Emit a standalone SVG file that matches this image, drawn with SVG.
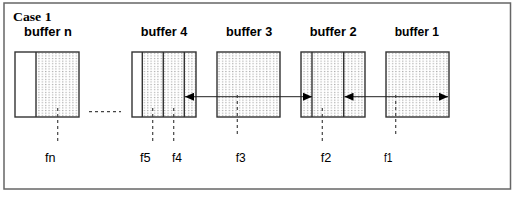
<svg xmlns="http://www.w3.org/2000/svg" width="519" height="200" viewBox="0 0 519 200">
<defs>
<pattern id="dots" x="0" y="0" width="3.4" height="2.6" patternUnits="userSpaceOnUse">
<rect x="1" y="0.8" width="1.1" height="1.1" fill="#a0a0a0"/>
</pattern>
<marker id="ah" markerWidth="10" markerHeight="8" refX="9" refY="4" orient="auto-start-reverse" markerUnits="userSpaceOnUse">
<path d="M0,0 L9,4 L0,8 Z" fill="#000"/>
</marker>
<style>
.box{fill:none;stroke:#333;stroke-width:1.4}
.fill{fill:url(#dots);stroke:none}
.div{stroke:#333;stroke-width:1.4}
.dash{stroke:#444;stroke-width:1.2;stroke-dasharray:3 3;fill:none}
.arr{stroke:#222;stroke-width:1;fill:none}
.lbl{font-family:"Liberation Sans",Arial,sans-serif;font-weight:bold;font-size:12px;fill:#000}
.f{font-family:"Liberation Sans",Arial,sans-serif;font-size:12px;fill:#000}
.case{font-family:"Liberation Serif","Times New Roman",serif;font-weight:bold;font-size:12.5px;fill:#000}
</style>
</defs>
<rect x="0" y="0" width="519" height="200" fill="#fff"/>
<rect x="4" y="3" width="506.5" height="186" fill="none" stroke="#666" stroke-width="1.5"/>
<text class="case" x="13" y="20.5" textLength="38.5" lengthAdjust="spacingAndGlyphs">Case 1</text>

<g id="buffer-n">
<rect class="fill" x="36" y="52" width="43" height="65"/>
<rect class="box" x="15" y="52" width="64" height="65"/>
<line class="div" x1="36" y1="52" x2="36" y2="117"/>
<text class="lbl" x="24" y="35.5" textLength="48" lengthAdjust="spacingAndGlyphs">buffer n</text>
</g>
<g id="buffer-4">
<rect class="fill" x="142" y="52" width="54" height="65"/>
<rect class="box" x="132" y="52" width="64" height="65"/>
<line class="div" x1="142.3" y1="52" x2="142.3" y2="117"/>
<line class="div" x1="163.3" y1="52" x2="163.3" y2="117"/>
<line class="div" x1="184.3" y1="52" x2="184.3" y2="117"/>
<text class="lbl" x="140.7" y="35.5" textLength="46.6" lengthAdjust="spacingAndGlyphs">buffer 4</text>
</g>
<g id="buffer-3">
<rect class="fill" x="217" y="52" width="63" height="65"/>
<rect class="box" x="217" y="52" width="63" height="65"/>
<text class="lbl" x="226" y="35.5" textLength="46.3" lengthAdjust="spacingAndGlyphs">buffer 3</text>
</g>
<g id="buffer-2">
<rect class="fill" x="301" y="52" width="64" height="65"/>
<rect class="box" x="301" y="52" width="64" height="65"/>
<line class="div" x1="312" y1="52" x2="312" y2="117"/>
<line class="div" x1="343.7" y1="52" x2="343.7" y2="117"/>
<text class="lbl" x="309.7" y="35.5" textLength="47" lengthAdjust="spacingAndGlyphs">buffer 2</text>
</g>
<g id="buffer-1">
<rect class="fill" x="386" y="52" width="63" height="65"/>
<rect class="box" x="386" y="52" width="63" height="65"/>
<text class="lbl" x="394.7" y="35.5" textLength="44.3" lengthAdjust="spacingAndGlyphs">buffer 1</text>
</g>

<g id="connectors">
<line class="arr" x1="185" y1="96.7" x2="312" y2="96.7" marker-start="url(#ah)" marker-end="url(#ah)"/>
<line class="arr" x1="344.5" y1="96.7" x2="448" y2="96.7" marker-start="url(#ah)" marker-end="url(#ah)"/>
<line class="dash" x1="89" y1="111.7" x2="121" y2="111.7"/>
<line class="dash" x1="57.7" y1="108" x2="57.7" y2="142"/>
<line class="dash" x1="152.7" y1="108" x2="152.7" y2="142"/>
<line class="dash" x1="173.7" y1="108" x2="173.7" y2="142"/>
<line class="dash" x1="237.3" y1="95" x2="237.3" y2="137"/>
<line class="dash" x1="322.3" y1="108" x2="322.3" y2="142"/>
<line class="dash" x1="395.7" y1="95" x2="395.7" y2="137"/>
</g>

<g id="labels">
<text class="f" x="45" y="162.3" textLength="10.5" lengthAdjust="spacingAndGlyphs">fn</text>
<text class="f" x="140" y="162.3" textLength="10.7" lengthAdjust="spacingAndGlyphs">f5</text>
<text class="f" x="172" y="162.3" textLength="10" lengthAdjust="spacingAndGlyphs">f4</text>
<text class="f" x="235.7" y="162.3" textLength="10" lengthAdjust="spacingAndGlyphs">f3</text>
<text class="f" x="320.7" y="162.3" textLength="10.6" lengthAdjust="spacingAndGlyphs">f2</text>
<text class="f" x="384" y="162.3" textLength="8.5" lengthAdjust="spacingAndGlyphs">f1</text>
</g>
</svg>
